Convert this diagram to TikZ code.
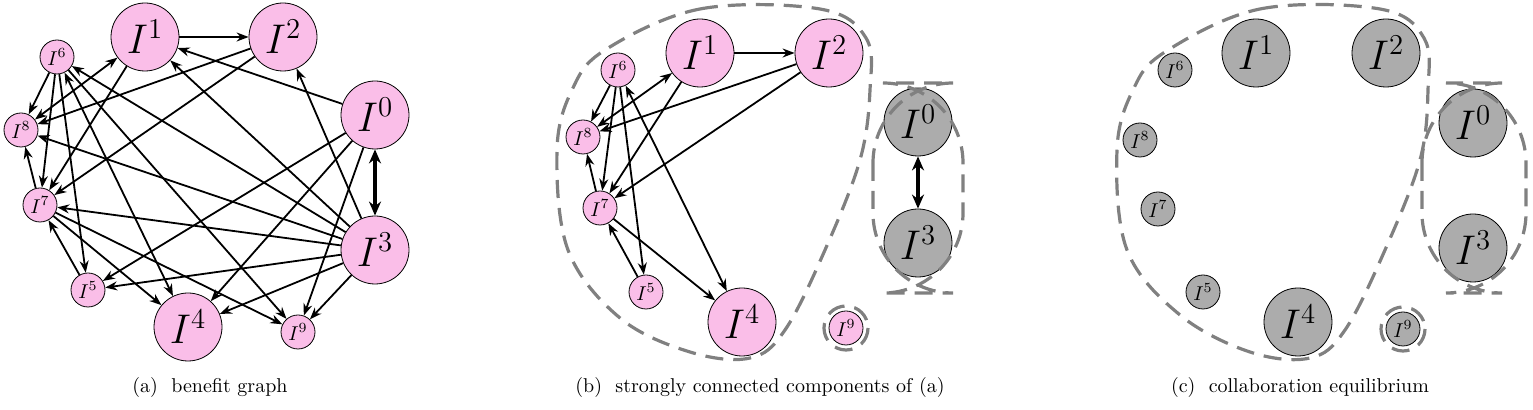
\documentclass[tikz,border=0pt]{standalone}
\usetikzlibrary{arrows.meta}
\definecolor{pinkf}{RGB}{250,190,232}
\begin{document}
\begin{tikzpicture}[x=0.5pt,y=-0.5pt,
  big/.style={circle,draw,fill=pinkf,inner sep=0pt,minimum size=34pt,font=\fontsize{22}{22}\selectfont},
  sml/.style={circle,draw,fill=pinkf,inner sep=0pt,minimum size=17pt,font=\fontsize{10}{10}\selectfont},
  bigg/.style={big,fill=gray!65},
  smlg/.style={sml,fill=gray!65},
  e/.style={-{Stealth[length=6pt,width=4.5pt]},line width=0.9pt},
  ee/.style={{Stealth[length=6pt,width=4.5pt]}-{Stealth[length=6pt,width=4.5pt]},line width=0.9pt},
  thick2/.style={{Stealth[length=7pt,width=6pt]}-{Stealth[length=7pt,width=6pt]},line width=1.8pt},
  hull/.style={draw=gray,line width=1.6pt,dash pattern=on 9pt off 5pt},
  captxt/.style={font=\fontsize{10}{12}\selectfont}]
\useasboundingbox (0,0) rectangle (1533,410);
% ---- (a)
\node[big] (a1) at (145,37) {$I^1$};
\node[big] (a2) at (283,37) {$I^2$};
\node[big] (a0) at (375,115) {$I^0$};
\node[big] (a3) at (375,250) {$I^3$};
\node[big] (a4) at (188,327) {$I^4$};
\node[sml] (a9) at (298,332) {$I^9$};
\node[sml] (a5) at (88,290) {$I^5$};
\node[sml] (a7) at (40,205) {$I^7$};
\node[sml] (a8) at (21,130) {$I^8$};
\node[sml] (a6) at (57,57) {$I^6$};
\foreach \s/\t in {a1/a2,a0/a1,a3/a2,a3/a1,a3/a6,a3/a8,a3/a7,a3/a5,a3/a4,a3/a9,a0/a5,a0/a4,a0/a9,a2/a8,a2/a7,a1/a7,a6/a8,a6/a7,a6/a5,a6/a9,a7/a8,a5/a7,a7/a4,a7/a9}
  \draw[e] (\s) -- (\t);
\draw[ee] (a8) -- (a1);
\draw[ee] (a6) -- (a4);
\draw[thick2] (a0) -- (a3);
\node[captxt] (ca) at (210,388) {(a)\ \ benefit graph};
% ---- (b)
\node[big] (b1) at (700,53) {$I^1$};
\node[big] (b2) at (829,53) {$I^2$};
\node[bigg] (b0) at (918,122) {$I^0$};
\node[bigg] (b3) at (918,243) {$I^3$};
\node[big] (b4) at (742,322) {$I^4$};
\node[sml] (b9) at (846,328) {$I^9$};
\node[sml] (b5) at (646,292) {$I^5$};
\node[sml] (b7) at (600,208) {$I^7$};
\node[sml] (b8) at (583,137) {$I^8$};
\node[sml] (b6) at (618,70) {$I^6$};
\foreach \s/\t in {b1/b2,b2/b8,b2/b7,b1/b7,b6/b8,b6/b7,b6/b5,b7/b8,b5/b7,b7/b4}
  \draw[e] (\s) -- (\t);
\draw[ee] (b8) -- (b1);
\draw[ee] (b6) -- (b4);
\draw[thick2] (b0) -- (b3);
\draw[hull] plot[smooth cycle,tension=0.6] coordinates {(605,50) (700,9) (820,9) (866,38) (870,90) (860,160) (825,250) (785,330) (750,358) (690,352) (620,318) (568,250) (557,150) (572,90)};
\draw[hull,rounded corners=40] (873,83) rectangle (963,293);
\draw[hull] (b9) circle [radius=22];
\node[captxt] (cb) at (760,388) {(b)\ \ strongly connected components of (a)};
% ---- (c)
\node[bigg] (c1) at (1256,53) {$I^1$};
\node[bigg] (c2) at (1386,53) {$I^2$};
\node[bigg] (c0) at (1473,123) {$I^0$};
\node[bigg] (c3) at (1473,248) {$I^3$};
\node[bigg] (c4) at (1298,322) {$I^4$};
\node[smlg] (c9) at (1403,329) {$I^9$};
\node[smlg] (c5) at (1203,292) {$I^5$};
\node[smlg] (c7) at (1158,209) {$I^7$};
\node[smlg] (c8) at (1140,140) {$I^8$};
\node[smlg] (c6) at (1175,70) {$I^6$};
\draw[hull] plot[smooth cycle,tension=0.6] coordinates {(1165,52) (1260,9) (1380,9) (1424,38) (1428,90) (1420,160) (1385,250) (1345,330) (1310,358) (1250,352) (1180,315) (1127,250) (1117,150) (1133,90)};
\draw[hull,rounded corners=40] (1422,83) rectangle (1526,293);
\draw[hull] (c9) circle [radius=22];
\node[captxt] (cc) at (1300,388) {(c)\ \ collaboration equilibrium};
\end{tikzpicture}
\end{document}
